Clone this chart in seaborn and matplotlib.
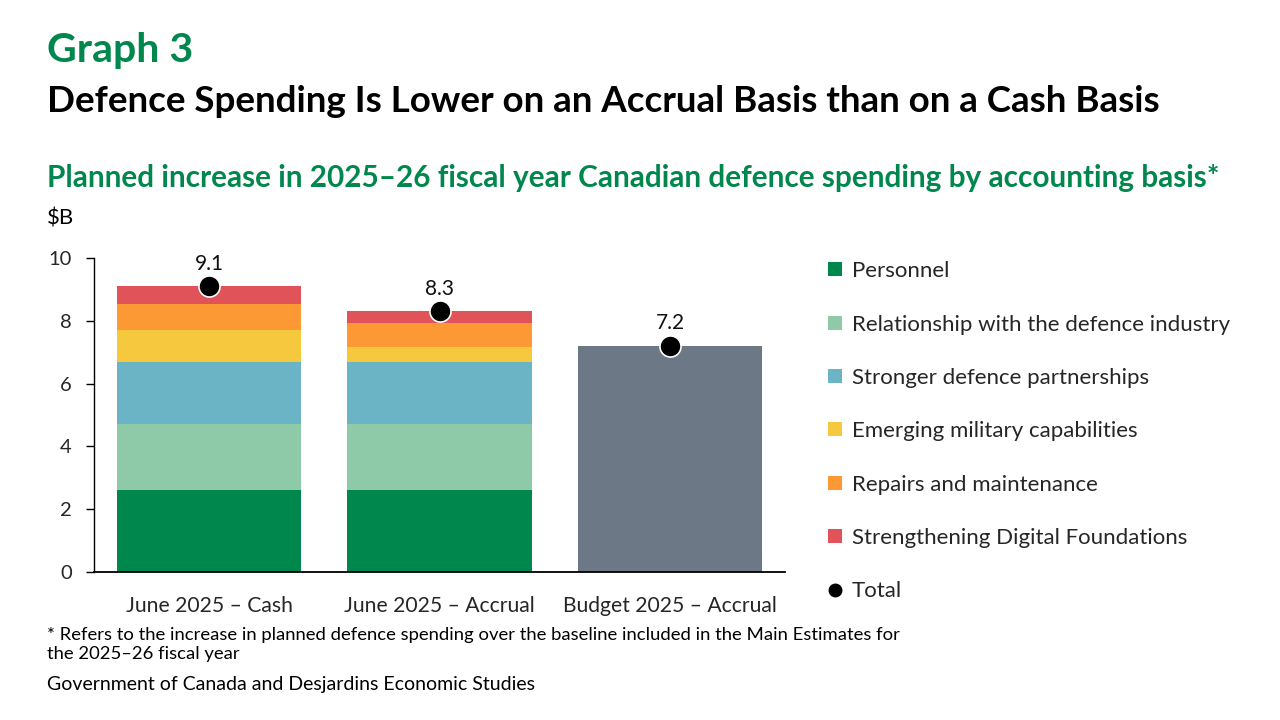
import numpy as np
import pandas as pd
import matplotlib
matplotlib.use("Agg")
import matplotlib.pyplot as plt
import seaborn as sns
from matplotlib.patches import Patch
from matplotlib.lines import Line2D

# data ($B)
scenarios = ["June 2025 – Cash", "June 2025 – Accrual", "Budget 2025 – Accrual"]
components = ["Personnel", "Relationship with the defence industry",
              "Stronger defence partnerships", "Emerging military capabilities",
              "Repairs and maintenance", "Strengthening Digital Foundations"]
cash_2025 = [2.6, 2.1, 2.0, 1.0, 0.84, 0.56]
accrual_2025 = [2.6, 2.1, 2.0, 0.45, 0.77, 0.38]
budget_total = [7.2]
totals = [9.1, 8.3, 7.2]

colors = ["#00874D", "#8FCAA8", "#6AB4C6", "#F5C83E", "#FD9935", "#E05358"]
gray = "#6C7885"
green_title = "#00874D"

sns.set_theme(style="white")
plt.rcParams["font.family"] = ["Lato", "DejaVu Sans"]

fig = plt.figure(figsize=(12.8, 7.2), dpi=100)
ax = fig.add_axes([0.0734, 0.2056, 0.540, 0.4361])

# stacked bars: draw cumulative heights from the top down
stack = pd.DataFrame({scenarios[0]: cash_2025, scenarios[1]: accrual_2025}, index=components)
cum = stack.cumsum()
for comp, col in reversed(list(zip(components, colors))):
    df = pd.DataFrame({"scenario": cum.columns, "value": cum.loc[comp].values})
    sns.barplot(data=df, x="scenario", y="value", order=scenarios, color=col,
                saturation=1, width=0.8, ax=ax, linewidth=0)

df3 = pd.DataFrame({"scenario": [scenarios[2]], "value": budget_total})
sns.barplot(data=df3, x="scenario", y="value", order=scenarios, color=gray,
            saturation=1, width=0.8, ax=ax, linewidth=0)

xs = np.arange(len(scenarios))
ax.scatter(xs, totals, s=230, color="black", edgecolor="white", linewidth=1.2, zorder=5)
for x, t in zip(xs, totals):
    ax.annotate(f"{t:.1f}", (x, t), xytext=(0, 9), textcoords="offset points",
                ha="center", va="bottom", fontsize=15, color="#111111")

ax.set_xlim(-0.5, 2.5)
ax.set_ylim(0, 10)
ax.set_yticks([0, 2, 4, 6, 8, 10])
ax.set_xlabel("")
ax.set_ylabel("")
for s in ["top", "right"]:
    ax.spines[s].set_visible(False)
ax.spines["left"].set_color("black")
ax.spines["bottom"].set_color("black")
ax.spines["left"].set_linewidth(1)
ax.spines["bottom"].set_linewidth(1.3)
ax.tick_params(axis="y", left=True, length=6, width=1, labelsize=14.5, pad=10, color="black")
ax.tick_params(axis="x", bottom=False, labelsize=15.2, pad=11)

handles = [Patch(facecolor=c, edgecolor="none", label=l) for c, l in zip(colors, components)]
handles.append(Line2D([], [], marker="o", color="black", linestyle="none", markersize=9, label="Total"))
fig.legend(handles=handles, loc="upper left", bbox_to_anchor=(0.6315, 0.665), frameon=False,
           fontsize=16, labelspacing=1.50, handlelength=0.6, handleheight=0.6, handletextpad=0.45)

fig.text(0.037, 0.930, "Graph 3", fontsize=29.5, fontweight="bold", color=green_title, va="center")
fig.text(0.037, 0.859, "Defence Spending Is Lower on an Accrual Basis than on a Cash Basis",
         fontsize=26.5, fontweight="bold", color="black", va="center")
fig.text(0.037, 0.753, "Planned increase in 2025–26 fiscal year Canadian defence spending by accounting basis*",
         fontsize=21.4, fontweight="bold", color=green_title, va="center")
fig.text(0.037, 0.697, "$B", fontsize=16, color="black", va="center")
fig.text(0.037, 0.105, "* Refers to the increase in planned defence spending over the baseline included in the Main Estimates for\nthe 2025–26 fiscal year",
         fontsize=13.3, color="black", va="center", linespacing=1.2)
fig.text(0.037, 0.049, "Government of Canada and Desjardins Economic Studies",
         fontsize=14, color="black", va="center")

fig.savefig("out.png", dpi=100)
